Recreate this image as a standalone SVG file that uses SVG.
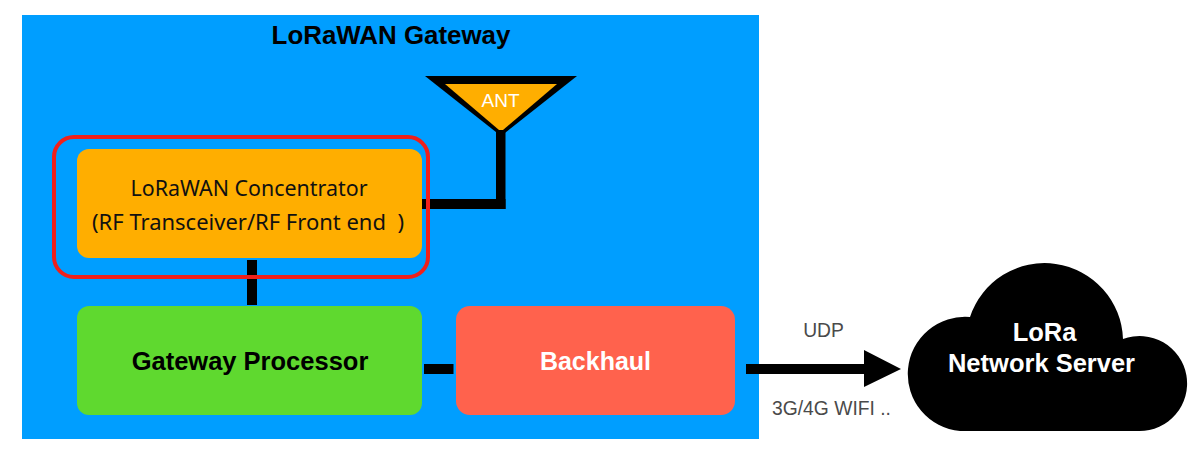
<svg xmlns="http://www.w3.org/2000/svg" width="1200" height="463" viewBox="0 0 1200 463">
<style>
text{font-family:"Liberation Sans",Arial,sans-serif;text-anchor:middle}
.b{font-weight:700}
.c{font-family:"Noto Sans","Liberation Sans",sans-serif;font-size:21.5px;fill:#111}
.l{font-size:19.300px;fill:#4a4a4a}
.w{fill:#fff}
.conn{fill:#000}
</style>
<rect width="1200" height="463" fill="#fff"/>
<g id="gateway">
<rect x="22" y="15" width="737" height="424" fill="#009eff"/>
<text class="b" x="391" y="44" font-size="25.900">LoRaWAN Gateway</text>
</g>
<g id="connectors">
<rect class="conn" x="496" y="130" width="9.500" height="79"/>
<rect class="conn" x="421" y="199" width="84.500" height="10"/>
<rect class="conn" x="247" y="260" width="10" height="45"/>
<rect class="conn" x="424" y="364" width="29.500" height="10"/>
<path class="conn" d="M746 364H864V350L901 369L864 387V374H746Z"/>
</g>
<g id="concentrator">
<rect x="77" y="149" width="345" height="109" rx="12" fill="#ffae00"/>
<text class="c" x="249" y="196" textLength="237" lengthAdjust="spacingAndGlyphs">LoRaWAN Concentrator</text>
<text class="c" x="248" y="230" textLength="312" lengthAdjust="spacingAndGlyphs" xml:space="preserve">(RF Transceiver/RF Front end  )</text>
</g>
<g id="highlight">
<rect x="54" y="137" width="374" height="140" rx="20" fill="none" stroke="#f0201a" stroke-width="4"/>
</g>
<g id="antenna">
<path d="M425 76H577L501 136Z" fill="#000"/>
<path d="M445 84H557L503 130H499Z" fill="#ffae00"/>
<text class="w" x="500.500" y="107" font-size="19">ANT</text>
</g>
<g id="processor">
<rect x="77" y="306" width="345" height="109" rx="12" fill="#5fd92f"/>
<text class="b" x="250" y="370" font-size="25.500">Gateway Processor</text>
</g>
<g id="backhaul">
<rect x="456" y="306" width="279" height="109" rx="14" fill="#ff624d"/>
<text class="b w" x="595.500" y="370" font-size="25">Backhaul</text>
</g>
<g id="labels">
<text class="l" x="823.500" y="337">UDP</text>
<text class="l" x="831.500" y="415">3G/4G WIFI ..</text>
</g>
<g id="cloud">
<path d="M960 431A57 57 0 0 1 970 317A78.500 78.500 0 0 1 1123 339A47.500 47.500 0 1 1 1139 431Z" fill="#000"/>
<text class="b w" x="1044.500" y="341" font-size="25.500">LoRa</text>
<text class="b w" x="1041.500" y="372" font-size="25.500">Network Server</text>
</g>
</svg>
